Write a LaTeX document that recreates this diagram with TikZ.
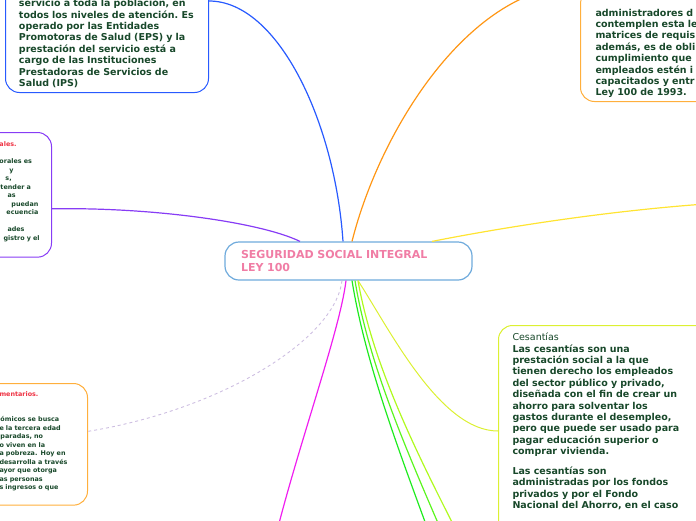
\documentclass[tikz,border=0pt]{standalone}
\usepackage{fontspec}
\setmainfont{DejaVu Sans}
\definecolor{txtgreen}{RGB}{24,72,42}
\definecolor{titlered}{RGB}{238,51,68}
\definecolor{leypink}{RGB}{240,125,165}
\definecolor{leyblue}{RGB}{110,170,220}
\definecolor{linkblue}{RGB}{40,90,255}
\definecolor{linkorange}{RGB}{255,150,20}
\definecolor{linkpurple}{RGB}{135,60,245}
\definecolor{linkyellow}{RGB}{255,228,50}
\definecolor{linkmagenta}{RGB}{240,30,240}
\definecolor{linkgreen}{RGB}{30,235,30}
\definecolor{linklime}{RGB}{90,245,30}
\definecolor{linkchart}{RGB}{175,250,30}
\definecolor{linkces}{RGB}{220,240,50}
\definecolor{boxorange}{RGB}{255,175,60}
\definecolor{dashgray}{RGB}{205,190,225}

\begin{document}
\begin{tikzpicture}[x=1pt,y=-1pt,
	box/.style={draw,line width=1pt,rounded corners=14pt,align=left,text=txtgreen},
	bigtext/.style={font=\fontsize{9.5}{11.4}\selectfont\bfseries},
	smalltext/.style={font=\fontsize{6.4}{8.5}\selectfont\bfseries},
	link/.style={line width=1.2pt}]
	\useasboundingbox (0,0) rectangle (696,520);
	\clip (0,0) rectangle (696,520);
	% central topic
	\node[draw=leyblue,line width=1.2pt,rounded corners=14pt,text width=215pt,inner xsep=16pt,minimum height=38pt,align=left,text=leypink,font=\fontsize{11}{12.5}\selectfont\bfseries] (ley) at (348.5,261) {SEGURIDAD SOCIAL INTEGRAL\\ LEY 100};
	% boxes around it
	\node[box,bigtext,draw=linkblue,text width=176pt,inner xsep=13.5pt,inner ysep=4.7pt,anchor=south west] (salud) at (5,93) {\mbox{}\\ \mbox{}\\ servicio~a~toda~la~población,~en\\ todos~los~niveles~de~atención.~Es\\ operado por las Entidades\\ Promotoras de Salud (EPS) y la\\ prestación del servicio está a\\ cargo de las Instituciones\\ Prestadoras de Servicios de\\ Salud (IPS)};
	\node[box,bigtext,draw=boxorange,text width=200pt,inner xsep=15pt,inner ysep=3.5pt,anchor=south west] (requisitos) at (580,102) {\mbox{}\\ \mbox{}\\ administradores d\\ contemplen esta le\\ matrices de requis\\ además, es de obli\\ cumplimiento que\\ empleados estén i\\ capacitados y entr\\ Ley 100 de 1993.};
	\node[box,bigtext,draw=linkces,text width=200pt,inner xsep=14pt,inner ysep=7.6pt,anchor=north west] (cesantias) at (498,325) {{\mdseries Cesantías}\\ Las cesantías son una\\ prestación social a la que\\ tienen derecho los empleados\\ del sector público y privado,\\ diseñada con el fin de crear un\\ ahorro para solventar los\\ gastos durante el desempleo,\\ pero que puede ser usado para\\ pagar educación superior o\\ comprar vivienda.\\[8.1pt] Las cesantías son\\ administradas por los fondos\\ privados y por el Fondo\\ Nacional del Ahorro, en el caso\\ \mbox{}\\ \mbox{}};
	\node[box,smalltext,draw=linkpurple,text width=100pt,inner xsep=3pt,inner ysep=9.3pt,anchor=north east] (temporales) at (52,132) {\hspace*{51pt}\textcolor{titlered}{ales.}\\[8.5pt]
		\hspace*{51pt}orales~es\\
		\hspace*{61pt}y\\
		\hspace*{57pt}s,\\
		\hspace*{52pt}tender~a\\
		\hspace*{59pt}as\\
		\hspace*{63pt}puedan\\
		\hspace*{58pt}ecuencia\\[8.5pt]
		\hspace*{59pt}ades\\
		\hspace*{55pt}gistro~y~el\\[-0.8pt]\mbox{}};
	\node[box,smalltext,draw=boxorange,text width=100pt,inner xsep=3pt,inner ysep=7.9pt,anchor=north east] (complementarios) at (88,383) {\hspace*{15pt}\textcolor{titlered}{mentarios.}\\[17pt]
		\hspace*{16pt}ómicos se busca\\
		\hspace*{15pt}e la tercera edad\\
		\hspace*{16pt}paradas, no\\
		\hspace*{15pt}o viven en la\\
		\hspace*{15pt}a pobreza. Hoy en\\
		\hspace*{15pt}desarrolla a través\\
		\hspace*{15pt}ayor que otorga\\
		\hspace*{15pt}as personas\\
		\hspace*{15pt}s ingresos o que\\[-1pt]\mbox{}};
	% free ends of the branches that leave the page
	\coordinate (yellowend) at (720,203);
	\coordinate (magentaend) at (276,535);
	\coordinate (verde1) at (428,530);
	\coordinate (verde2) at (441,530);
	\coordinate (verde3) at (456,530);
	% branches
	\draw[link,linkblue] ([xshift=-5.5pt]ley.north) .. controls (335,122) and (278,1) .. (salud.east |- 0,1);
	\draw[link,linkorange] ([xshift=3.5pt]ley.north) .. controls (380,130) and (470,-15) .. (requisitos.west |- 0,-15);
	\draw[link,linkpurple] ([yshift=-14pt]temporales.east) .. controls (150,207) and (260,222) .. ([xshift=-48.5pt]ley.north);
	\draw[link,linkyellow] ([xshift=83.5pt]ley.north) .. controls (500,228) and (610,210) .. (yellowend);
	\draw[dashgray,line width=0.9pt,dash pattern=on 3pt off 3pt] ([xshift=-6.5pt]ley.south) .. controls (335,340) and (220,410) .. ([yshift=13pt]complementarios.east);
	\draw[link,linkmagenta] ([xshift=-2.5pt]ley.south) .. controls (340,330) and (300,440) .. (magentaend);
	\draw[link,linkgreen] ([xshift=3.5pt]ley.south) .. controls (365,360) and (395,440) .. (verde1);
	\draw[link,linklime] ([xshift=6.5pt]ley.south) .. controls (368,360) and (402,440) .. (verde2);
	\draw[link,linkchart] ([xshift=9.5pt]ley.south) .. controls (372,360) and (410,440) .. (verde3);
	\draw[line width=1pt,linkces] ([xshift=9.5pt]ley.south) .. controls (390,330) and (440,431) .. (cesantias.west |- 0,431);
\end{tikzpicture}
\end{document}
